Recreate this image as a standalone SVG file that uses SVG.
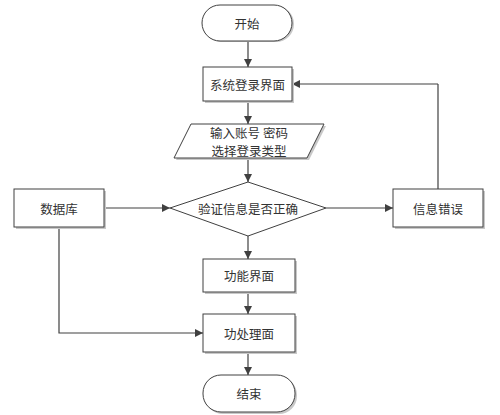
<svg xmlns="http://www.w3.org/2000/svg" width="500" height="415" viewBox="0 0 500 415">
<defs>
<marker id="arr" viewBox="0 0 10 10" refX="10" refY="5" markerWidth="8" markerHeight="8" markerUnits="userSpaceOnUse" orient="auto">
<path d="M0,0 L10,5 L0,10 z" fill="#404040"/>
</marker>
<style>
.shape{fill:#fff;stroke:#404040;stroke-width:1}
.shadow{fill:#c8c8c8;stroke:none}
.t{font-family:"Noto Sans CJK SC","Noto Sans",sans-serif;font-size:12.5px;fill:#333;text-anchor:middle;dominant-baseline:central}
.c{fill:none;stroke:#404040;stroke-width:1.2;marker-end:url(#arr)}
.cn{fill:none;stroke:#404040;stroke-width:1.2}
</style>
</defs>
<rect width="500" height="415" fill="#fff"/>
<g id="connectors">
<path class="c" d="M248,41 V67"/>
<path class="c" d="M248,101 V124"/>
<path class="c" d="M248,158 V182"/>
<path class="c" d="M104,208 H170"/>
<path class="c" d="M326,208 H393"/>
<path class="cn" d="M438,189 V84"/>
<path class="c" d="M438,84 H292"/>
<path class="c" d="M248,236 V259"/>
<path class="c" d="M248,292 V314"/>
<path class="c" d="M59,227 V333 H203"/>
<path class="c" d="M248,352 V375"/>
</g>
<g id="start">
<rect class="shadow" x="204" y="6" width="90" height="36" rx="18"/>
<rect class="shape" x="202" y="5" width="90" height="36" rx="18"/>
<text class="t" x="247" y="23">开始</text>
</g>
<g id="login">
<rect class="shadow" x="205" y="69" width="89" height="34"/>
<rect class="shape" x="203" y="67" width="89" height="34"/>
<text class="t" x="247.5" y="84">系统登录界面</text>
</g>
<g id="input">
<polygon class="shadow" points="193,126 326,126 309,160 176,160"/>
<polygon class="shape" points="191,124 324,124 307,158 174,158"/>
<text class="t" x="249" y="132">输入账号 密码</text>
<text class="t" x="249" y="150">选择登录类型</text>
</g>
<g id="verify">
<polygon class="shape" points="248,182 326,208 248,236 170,208"/>
<text class="t" x="248" y="208">验证信息是否正确</text>
</g>
<g id="database">
<rect class="shadow" x="16" y="191" width="90" height="38"/>
<rect class="shape" x="14" y="189" width="90" height="38"/>
<text class="t" x="59" y="208">数据库</text>
</g>
<g id="error">
<rect class="shadow" x="395" y="191" width="90" height="38"/>
<rect class="shape" x="393" y="189" width="90" height="38"/>
<text class="t" x="438" y="208">信息错误</text>
</g>
<g id="function">
<rect class="shadow" x="205" y="261" width="92" height="33"/>
<rect class="shape" x="203" y="259" width="92" height="33"/>
<text class="t" x="249" y="275.5">功能界面</text>
</g>
<g id="process">
<rect class="shadow" x="205" y="316" width="92" height="38"/>
<rect class="shape" x="203" y="314" width="92" height="38"/>
<text class="t" x="249" y="333">功处理面</text>
</g>
<g id="end">
<rect class="shadow" x="205" y="377" width="92" height="37" rx="18"/>
<rect class="shape" x="203" y="375" width="92" height="37" rx="18"/>
<text class="t" x="249" y="393.5">结束</text>
</g>
</svg>
